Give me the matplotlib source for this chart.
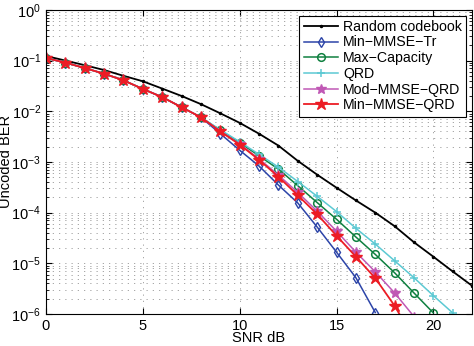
import numpy as np
import matplotlib
matplotlib.use("Agg")
import matplotlib.pyplot as plt
from matplotlib.ticker import LogLocator, MultipleLocator, NullFormatter

plt.rcParams['font.family'] = ['Liberation Sans', 'DejaVu Sans']
plt.rcParams['mathtext.default'] = 'regular'

snr = np.arange(0, 23)

# BER curves, one entry per dB
ber_random = [1.23e-1, 1.0e-1, 8.1e-2, 6.5e-2, 5.0e-2, 3.9e-2, 2.8e-2, 2.0e-2,
              1.38e-2, 9.1e-3, 5.9e-3, 3.6e-3, 2.1e-3, 1.05e-3, 5.6e-4, 3.1e-4,
              1.74e-4, 1.0e-4, 5.4e-5, 2.6e-5, 1.35e-5, 6.9e-6, 3.6e-6]
low_snr = [1.12e-1, 9.1e-2, 7.1e-2, 5.5e-2, 4.07e-2, 2.75e-2, 1.9e-2, 1.2e-2, 7.6e-3]
ber_min_mmse_tr = low_snr + [3.6e-3, 1.7e-3, 8.3e-4, 3.5e-4, 1.55e-4, 5.2e-5,
                             1.66e-5, 5.2e-6, 1.07e-6]
ber_max_capacity = low_snr + [4.2e-3, 2.4e-3, 1.32e-3, 7.2e-4, 3.4e-4, 1.58e-4,
                              7.4e-5, 3.3e-5, 1.5e-5, 6.5e-6, 2.6e-6, 1.05e-6]
ber_qrd = low_snr + [4.3e-3, 2.5e-3, 1.41e-3, 7.9e-4, 4.1e-4, 2.1e-4, 1.05e-4,
                     4.9e-5, 2.4e-5, 1.12e-5, 5.2e-6, 2.3e-6, 1.05e-6]
ber_mod_mmse_qrd = low_snr + [4.0e-3, 2.25e-3, 1.15e-3, 5.5e-4, 2.5e-4, 1.07e-4,
                              4.3e-5, 1.66e-5, 6.8e-6, 2.6e-6, 8.9e-7]
ber_min_mmse_qrd = low_snr + [4.0e-3, 2.2e-3, 1.1e-3, 5.1e-4, 2.2e-4, 9.3e-5,
                              3.5e-5, 1.35e-5, 5.1e-6, 1.45e-6, 3.2e-7]

fig = plt.figure(figsize=(4.74, 3.46), dpi=100)
ax = fig.add_axes([0.097, 0.0925, 0.899, 0.879])

ax.semilogy(snr, ber_random, '-', marker='.', ms=3, color='k', lw=1.3,
            label='Random codebook')
ax.semilogy(snr[:len(ber_min_mmse_tr)], ber_min_mmse_tr, '-', marker='d', ms=5,
            mfc='none', mew=1.0, color='#2c44a8', lw=1.1, label='Min\u2212MMSE\u2212Tr')
ax.semilogy(snr[:len(ber_max_capacity)], ber_max_capacity, '-', marker='o', ms=5.5,
            mfc='none', mew=1.1, color='#0f8040', lw=1.1, label='Max\u2212Capacity')
ax.semilogy(snr[:len(ber_qrd)], ber_qrd, '-', marker='+', ms=6, mew=1.1,
            color='#5cc9d3', lw=1.1, label='QRD')
ax.semilogy(snr[:len(ber_mod_mmse_qrd)], ber_mod_mmse_qrd, '-', marker='*', ms=7,
            color='#c058b5', lw=1.1, label='Mod\u2212MMSE\u2212QRD')
ax.semilogy(snr[:len(ber_min_mmse_qrd)], ber_min_mmse_qrd, '-', marker='*', ms=9,
            color='#ec1c24', lw=1.3, label='Min\u2212MMSE\u2212QRD')

ax.set_xlim(0, 22)
ax.set_ylim(1e-6, 1)
ax.xaxis.set_major_locator(MultipleLocator(5))
ax.yaxis.set_major_locator(LogLocator(base=10, numticks=10))
ax.yaxis.set_minor_locator(LogLocator(base=10, subs=np.arange(2, 10), numticks=20))
ax.yaxis.set_minor_formatter(NullFormatter())

ax.tick_params(which='both', direction='in', top=True, right=True, labelsize=10.5)
ax.tick_params(axis='x', which='minor', bottom=False, top=False)
ax.tick_params(which='major', length=4)
ax.tick_params(which='minor', length=2)

dotted = (0, (1.5, 6))
ax.grid(True, which='major', axis='both', color='#999999', lw=0.6, linestyle=dotted)
ax.grid(True, which='minor', axis='y', color='#999999', lw=0.6, linestyle=dotted)

for s in ax.spines.values():
    s.set_linewidth(0.8)

ax.set_xlabel('SNR dB', fontsize=10.5, labelpad=-1)
ax.set_ylabel('Uncoded BER', fontsize=10.5)
ax.yaxis.set_label_coords(-0.077, 0.5)

leg = ax.legend(loc='upper right', fontsize=10.2, fancybox=False, framealpha=1,
                edgecolor='k', borderpad=0.3, labelspacing=0.12, handlelength=2.4,
                handletextpad=0.4, borderaxespad=0.4)
leg.get_frame().set_linewidth(0.8)

fig.savefig('out.png', dpi=100)
